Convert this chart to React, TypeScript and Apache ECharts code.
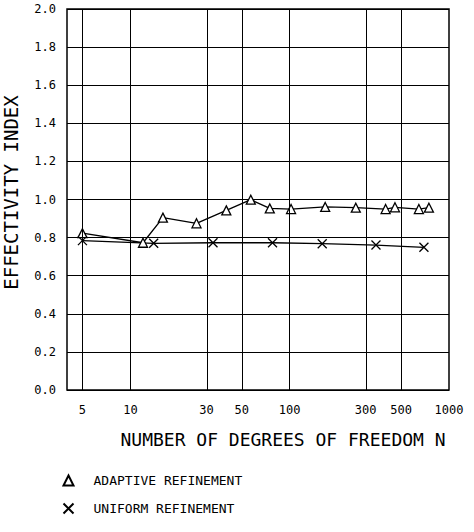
import React, { useEffect, useRef } from "react";
import * as echarts from "echarts";

const xTicks = [5, 10, 30, 50, 100, 300, 500, 1000];

const adaptiveN = [5, 12, 16, 26, 40, 57, 75, 102, 167, 260, 400, 458, 647, 748];
const adaptiveEff = [0.823, 0.773, 0.905, 0.875, 0.943, 0.999, 0.953, 0.95, 0.961, 0.957, 0.95, 0.959, 0.95, 0.957];

const uniformN = [5, 14, 33, 78, 160, 348, 696];
const uniformEff = [0.784, 0.77, 0.773, 0.773, 0.768, 0.761, 0.749];

const FONT = "DejaVu Sans Mono";
const X_PATH = "path://M0,0L10,10M10,0L0,10";

export default function App() {
  const ref = useRef<HTMLDivElement>(null);
  useEffect(() => {
    if (!ref.current) return;
    const chart = echarts.init(ref.current, null, { renderer: "svg" });
    const lg = (v: number) => Math.log10(v);
    chart.setOption({
      animation: false,
      backgroundColor: "#fff",
      grid: {
        left: 67,
        right: 25,
        top: 9,
        bottom: 142,
        containLabel: false,
        outerBoundsMode: "none",
        show: true,
        borderColor: "#000",
        borderWidth: 1.5,
        backgroundColor: "transparent",
      },
      xAxis: {
        type: "value",
        min: lg(4),
        max: 3,
        name: "NUMBER OF DEGREES OF FREEDOM N",
        nameLocation: "middle",
        nameGap: 40,
        nameTextStyle: { fontFamily: FONT, fontSize: 18, color: "#000", padding: [0, 0, 0, 50] },
        axisLine: { show: false },
        axisTick: { show: false, customValues: xTicks.map(lg) },
        axisLabel: {
          customValues: xTicks.map(lg),
          formatter: (v: number) => String(Math.round(Math.pow(10, v))),
          fontFamily: FONT,
          fontSize: 12,
          color: "#000",
          margin: 14,
          showMaxLabel: true,
        },
        splitLine: { show: false },
      },
      yAxis: {
        type: "value",
        min: 0,
        max: 2,
        interval: 0.2,
        name: "EFFECTIVITY INDEX",
        nameLocation: "middle",
        nameGap: 47,
        nameTextStyle: { fontFamily: FONT, fontSize: 19, color: "#000", padding: [0, 0, 0, 14] },
        axisLine: { show: false },
        axisTick: { show: false },
        axisLabel: {
          formatter: (v: number) => v.toFixed(1),
          fontFamily: FONT,
          fontSize: 12,
          color: "#000",
          margin: 11,
        },
        splitLine: { show: true, lineStyle: { color: "#000", width: 1 } },
      },
      legend: {
        orient: "vertical",
        left: 56,
        top: 469,
        itemWidth: 10,
        itemHeight: 10,
        itemGap: 14,
        textStyle: { fontFamily: FONT, fontSize: 13, color: "#000", padding: [0, 0, 0, 15] },
        data: [
          { name: "ADAPTIVE REFINEMENT", icon: "triangle" },
          { name: "UNIFORM REFINEMENT", icon: X_PATH },
        ],
      },
      series: [
        {
          name: "ADAPTIVE REFINEMENT",
          type: "line",
          data: adaptiveN.map((n, i) => [lg(n), adaptiveEff[i]]),
          symbol: "triangle",
          symbolSize: 9,
          itemStyle: { color: "#fff", borderColor: "#000", borderWidth: 1.3 },
          lineStyle: { color: "#000", width: 1.3 },
          z: 3,
          markLine: {
            silent: true,
            symbol: "none",
            label: { show: false },
            lineStyle: { color: "#000", width: 1, type: "solid" },
            data: xTicks.slice(0, -1).map((t) => ({ xAxis: lg(t) })),
          },
        },
        {
          name: "UNIFORM REFINEMENT",
          type: "line",
          data: uniformN.map((n, i) => [lg(n), uniformEff[i]]),
          symbol: X_PATH,
          symbolSize: 9,
          itemStyle: { color: "none", borderColor: "#000", borderWidth: 1.3 },
          lineStyle: { color: "#000", width: 1.3 },
          z: 2,
        },
      ],
    });
    return () => chart.dispose();
  }, []);
  return <div ref={ref} style={{ width: 474, height: 532, position: "absolute", left: 0, top: 0 }} />;
}
